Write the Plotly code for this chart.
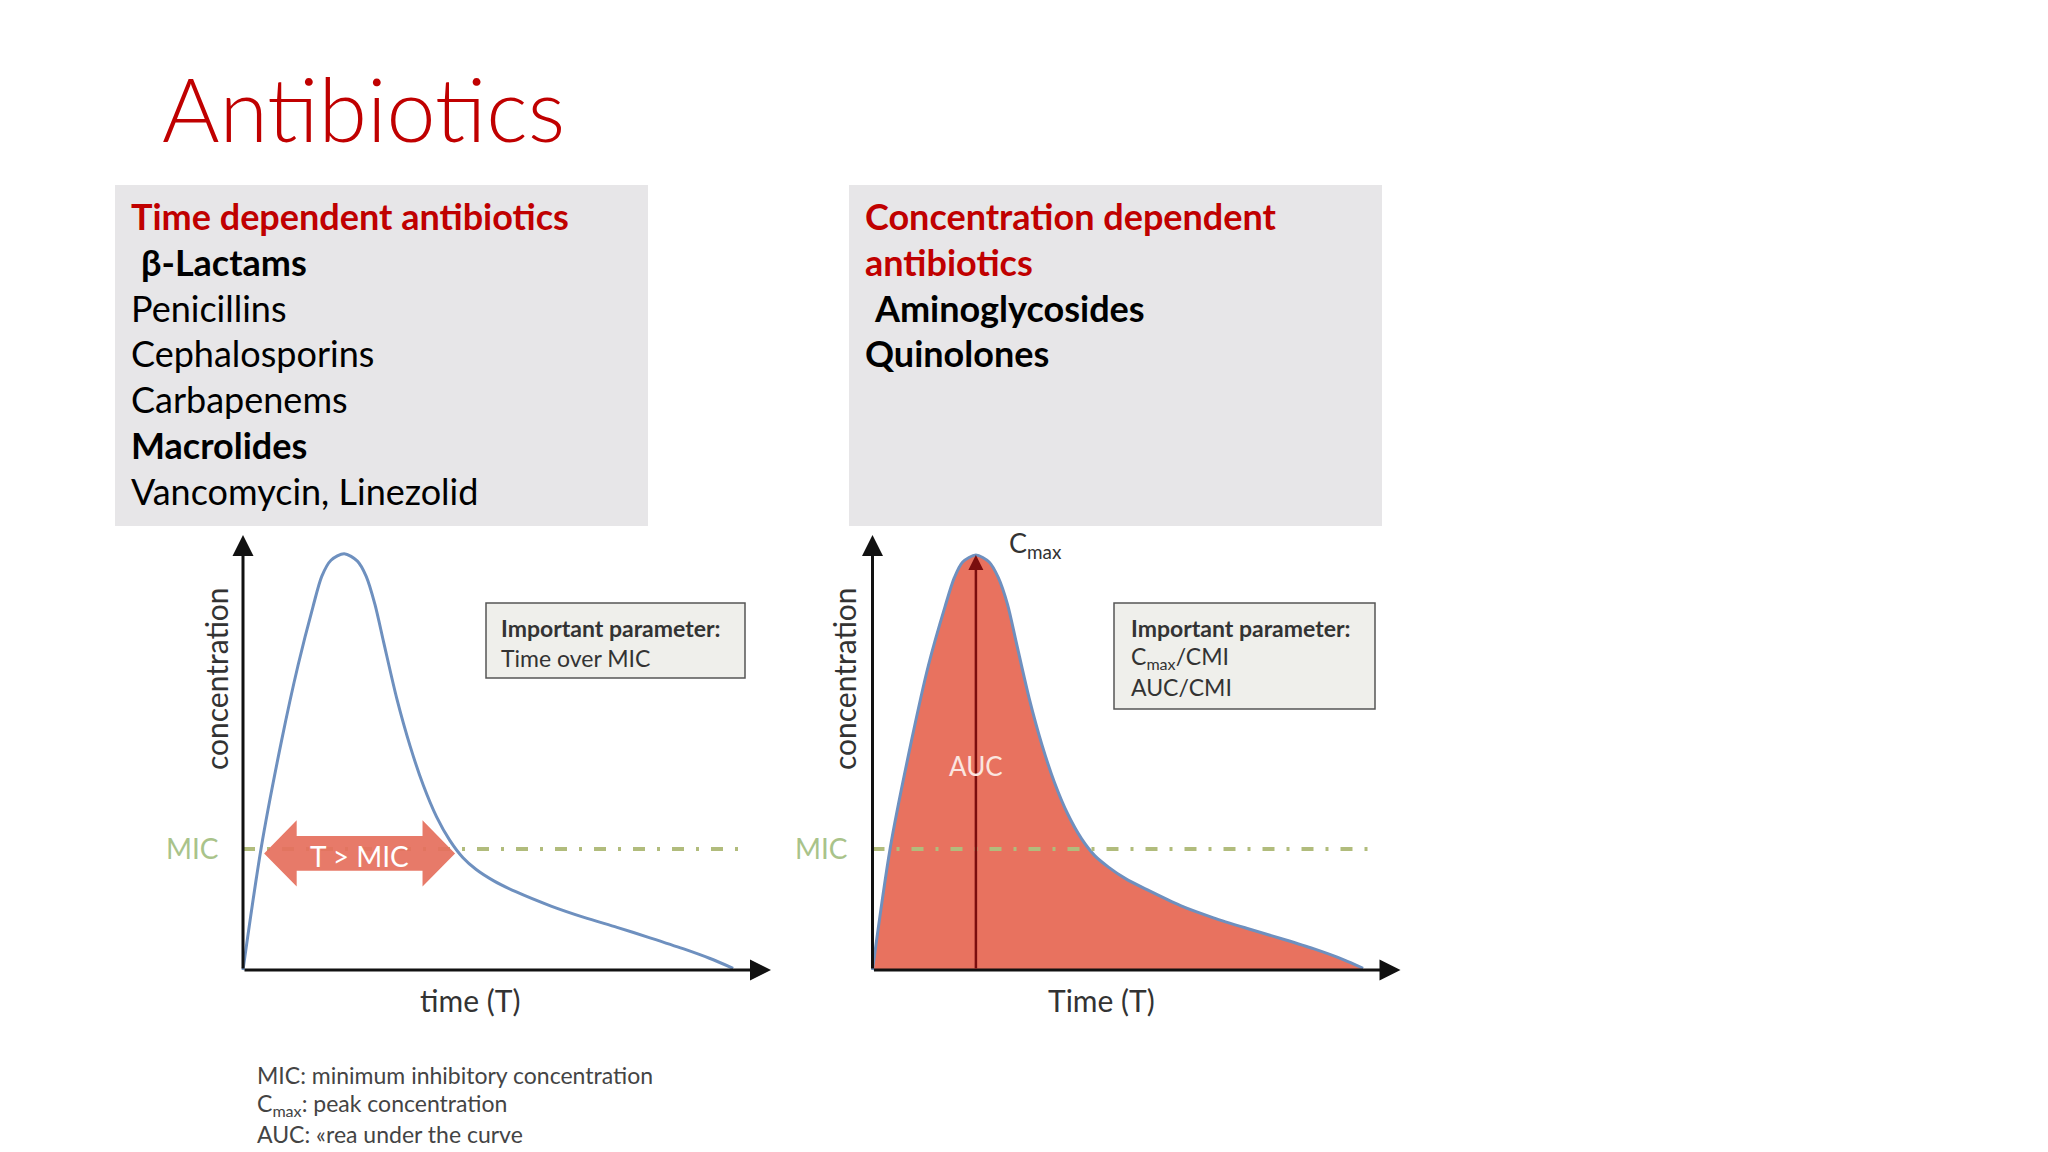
import plotly.graph_objects as go

W, H = 2048, 1152

# ---------------- data (arbitrary units) ----------------
time_left = [0, 0.41, 0.88, 1.25, 1.59, 1.79, 2.00, 2.30, 2.60, 2.80, 3.00, 3.20, 3.50,
             3.80, 4.10, 4.40, 4.70, 5.00, 5.30, 5.70, 6.20, 7.00, 7.75, 8.50, 9.25,
             10.00, 10.60, 11.14]
conc_left = [0, 2.79, 5.29, 7.00, 8.35, 9.05, 9.42, 9.57, 9.40, 9.05, 8.40, 7.52, 6.22,
             5.14, 4.24, 3.52, 2.98, 2.58, 2.31, 2.05, 1.80, 1.47, 1.21, 0.98, 0.74,
             0.49, 0.27, 0.04]

time_right = [0, 0.40, 0.89, 1.27, 1.65, 1.86, 2.05, 2.35, 2.65, 2.86, 3.07, 3.27, 3.56,
              3.85, 4.14, 4.44, 4.75, 5.05, 5.37, 5.75, 6.25, 7.00, 7.75, 8.50, 9.26,
              10.02, 10.70, 11.15]
conc_right = [0, 2.79, 5.29, 7.00, 8.36, 9.02, 9.38, 9.54, 9.38, 9.02, 8.40, 7.52, 6.25,
              5.18, 4.30, 3.58, 3.02, 2.63, 2.36, 2.10, 1.84, 1.48, 1.20, 0.96, 0.73,
              0.49, 0.24, 0.04]

mic_level = 2.78
mic_span = [0, 11.43]
t_over_mic = [0.48, 4.82]
cmax_time = 2.35
cmax_value = 9.54
axis_len_x = 12
axis_len_y = 10

title_text = "Antibiotics"
left_lines = ["<b>Time dependent antibiotics</b>", "<b>β-Lactams</b>", "Penicillins",
              "Cephalosporins", "Carbapenems", "<b>Macrolides</b>", "Vancomycin, Linezolid"]
left_colors = ["#C00000", "#000", "#000", "#000", "#000", "#000", "#000"]
left_indent = [0, 10, 0, 0, 0, 0, 0]
right_lines = ["<b>Concentration dependent</b>", "<b>antibiotics</b>",
               "<b>Aminoglycosides</b>", "<b>Quinolones</b>"]
right_colors = ["#C00000", "#C00000", "#000", "#000"]
right_indent = [0, 0, 9, 0]
param_left = ["<b>Important parameter:</b>", "Time over MIC"]
param_right = ["<b>Important parameter:</b>", "C<sub>max</sub>/CMI", "AUC/CMI"]
footnotes = ["MIC: minimum inhibitory concentration",
             "C<sub>max</sub>: peak concentration",
             "AUC: «rea under the curve"]

# ---------------- styling ----------------
FONT = "Lato"
RED = "#C00000"
CURVE = "#6E90BF"
FILL = "#E8725F"
MIC_COL = "#B1BC7C"
MIC_TXT = "#A9C38A"
DARK = "#333333"
MIC_DASH = "12px,12px,3px,12px"


def px(x):
    return x / W


def py(y):
    return 1 - y / H


fig = go.Figure()

# left chart
fig.add_trace(go.Scatter(x=mic_span, y=[mic_level, mic_level], mode="lines",
                         line=dict(color=MIC_COL, width=4, dash=MIC_DASH),
                         xaxis="x", yaxis="y", hoverinfo="skip"))
fig.add_trace(go.Scatter(x=time_left, y=conc_left, mode="lines",
                         line=dict(color=CURVE, width=3, shape="spline", smoothing=0.8),
                         xaxis="x", yaxis="y"))
# right chart
fig.add_trace(go.Scatter(x=time_right, y=conc_right, mode="lines", fill="tozeroy",
                         fillcolor=FILL,
                         line=dict(color=CURVE, width=3, shape="spline", smoothing=0.8),
                         xaxis="x2", yaxis="y2"))
fig.add_trace(go.Scatter(x=mic_span, y=[mic_level, mic_level], mode="lines",
                         line=dict(color=MIC_COL, width=4, dash=MIC_DASH),
                         xaxis="x2", yaxis="y2", hoverinfo="skip"))

# axes geometry: origin pixel and pixel lengths
ox_l, ox_r, oy = 243, 872.5, 970
lenx_px, leny_px = 528, 435
pad = 0.5
ux = lenx_px / axis_len_x
uy = leny_px / axis_len_y


def xdom(ox):
    return [px(ox - pad * ux), px(ox + lenx_px + pad * ux)]


ydom = [py(oy + pad * uy), py(oy - leny_px - pad * uy)]

axcommon = dict(visible=False, fixedrange=True)
fig.update_layout(
    xaxis=dict(domain=xdom(ox_l), range=[-pad, axis_len_x + pad], anchor="y", **axcommon),
    yaxis=dict(domain=ydom, range=[-pad, axis_len_y + pad], anchor="x", **axcommon),
    xaxis2=dict(domain=xdom(ox_r), range=[-pad, axis_len_x + pad], anchor="y2", **axcommon),
    yaxis2=dict(domain=ydom, range=[-pad, axis_len_y + pad], anchor="x2", **axcommon),
)

shapes = []
# grey text boxes
for x0, x1 in [(115, 648), (849, 1382)]:
    shapes.append(dict(type="rect", xref="paper", yref="paper", x0=px(x0), x1=px(x1),
                       y0=py(526), y1=py(185), fillcolor="#E7E6E8", line=dict(width=0),
                       layer="below"))
# parameter boxes
for (x0, y0, x1, y1) in [(486, 603, 745, 678), (1114, 603, 1375, 709)]:
    shapes.append(dict(type="rect", xref="paper", yref="paper", x0=px(x0), x1=px(x1),
                       y0=py(y1), y1=py(y0), fillcolor="#EFEFEB",
                       line=dict(color="#555555", width=1.5), layer="above"))

# T > MIC double arrow
a0, a1 = t_over_mic
yc, hh, sh, hl = mic_level - 0.1, 0.76, 0.40, 0.74
path = (f"M {a0},{yc} L {a0+hl},{yc+hh} L {a0+hl},{yc+sh} L {a1-hl},{yc+sh} "
        f"L {a1-hl},{yc+hh} L {a1},{yc} L {a1-hl},{yc-hh} L {a1-hl},{yc-sh} "
        f"L {a0+hl},{yc-sh} L {a0+hl},{yc-hh} Z")
shapes.append(dict(type="path", xref="x", yref="y", path=path, fillcolor="#E5705E",
                   opacity=0.93, line=dict(width=0), layer="above"))

annotations = []
# title
annotations.append(dict(text=title_text, x=px(160), y=py(108), xref="paper", yref="paper",
                        xanchor="left", yanchor="middle", showarrow=False,
                        font=dict(family=FONT, size=88, color=RED, weight=300)))
# box texts
for i, (t, c, ind) in enumerate(zip(left_lines, left_colors, left_indent)):
    annotations.append(dict(text=t, x=px(129 + ind), y=py(216 + i * 45.8), xref="paper",
                            yref="paper", xanchor="left", yanchor="middle", showarrow=False,
                            font=dict(family=FONT, size=36, color=c)))
for i, (t, c, ind) in enumerate(zip(right_lines, right_colors, right_indent)):
    annotations.append(dict(text=t, x=px(863 + ind), y=py(216 + i * 45.8), xref="paper",
                            yref="paper", xanchor="left", yanchor="middle", showarrow=False,
                            font=dict(family=FONT, size=36, color=c)))

# axis arrows
for xr, yr in [("x", "y"), ("x2", "y2")]:
    annotations.append(dict(x=0, y=axis_len_y, ax=0, ay=0, xref=xr, yref=yr, axref=xr,
                            ayref=yr, text="", showarrow=True, arrowhead=2, arrowsize=1.4,
                            arrowwidth=3, arrowcolor="#111111"))
    annotations.append(dict(x=axis_len_x, y=0, ax=0, ay=0, xref=xr, yref=yr, axref=xr,
                            ayref=yr, text="", showarrow=True, arrowhead=2, arrowsize=1.4,
                            arrowwidth=3, arrowcolor="#111111"))
# Cmax arrow
annotations.append(dict(x=cmax_time, y=cmax_value, ax=cmax_time, ay=0, xref="x2", yref="y2",
                        axref="x2", ayref="y2", text="", showarrow=True, arrowhead=2,
                        arrowsize=1.2, arrowwidth=2.5, arrowcolor="#7A0E0E"))

# axis labels
for xc, lbl in [(216, "concentration"), (844, "concentration")]:
    annotations.append(dict(text=lbl, x=px(xc), y=py(679), xref="paper", yref="paper",
                            textangle=-90, showarrow=False, xanchor="center",
                            yanchor="middle", font=dict(family=FONT, size=30, color=DARK)))
for xc, lbl in [(470, "time (T)"), (1101, "Time (T)")]:
    annotations.append(dict(text=lbl, x=px(xc), y=py(1000), xref="paper", yref="paper",
                            showarrow=False, xanchor="center", yanchor="middle",
                            font=dict(family=FONT, size=30, color=DARK)))
# MIC labels
for xc in [192, 821]:
    annotations.append(dict(text="MIC", x=px(xc), y=py(848), xref="paper", yref="paper",
                            showarrow=False, xanchor="center", yanchor="middle",
                            font=dict(family=FONT, size=28, color=MIC_TXT)))
# T > MIC text
annotations.append(dict(text="T > MIC", x=(a0 + a1) / 2, y=yc - 0.05, xref="x", yref="y",
                        showarrow=False, xanchor="center", yanchor="middle",
                        font=dict(family=FONT, size=28, color="white")))
# AUC text
annotations.append(dict(text="AUC", x=cmax_time, y=4.69, xref="x2", yref="y2",
                        showarrow=False, xanchor="center", yanchor="middle",
                        font=dict(family=FONT, size=26, color="#FBE6E0")))
# Cmax label
annotations.append(dict(text="C<sub>max</sub>", x=px(1007), y=py(544), xref="paper",
                        yref="paper", showarrow=False, xanchor="left", yanchor="middle",
                        font=dict(family=FONT, size=27, color=DARK)))
# parameter box texts
for i, t in enumerate(param_left):
    annotations.append(dict(text=t, x=px(499), y=py(628 + i * 29.5), xref="paper",
                            yref="paper", showarrow=False, xanchor="left", yanchor="middle",
                            font=dict(family=FONT, size=23, color=DARK)))
for i, t in enumerate(param_right):
    annotations.append(dict(text=t, x=px(1129), y=py(628 + i * 29.5), xref="paper",
                            yref="paper", showarrow=False, xanchor="left", yanchor="middle",
                            font=dict(family=FONT, size=23, color=DARK)))
# footnotes
for i, t in enumerate(footnotes):
    annotations.append(dict(text=t, x=px(255), y=py(1075 + i * 29.5), xref="paper",
                            yref="paper", showarrow=False, xanchor="left", yanchor="middle",
                            font=dict(family=FONT, size=23, color="#444444")))

fig.update_layout(
    width=W, height=H, margin=dict(l=0, r=0, t=0, b=0),
    paper_bgcolor="white", plot_bgcolor="rgba(0,0,0,0)", showlegend=False,
    shapes=shapes, annotations=annotations,
)

fig.write_html("out.html", include_plotlyjs=True,
               config={"displayModeBar": False, "staticPlot": True},
               post_script="document.body.style.margin='0';document.body.style.overflow='hidden';")
